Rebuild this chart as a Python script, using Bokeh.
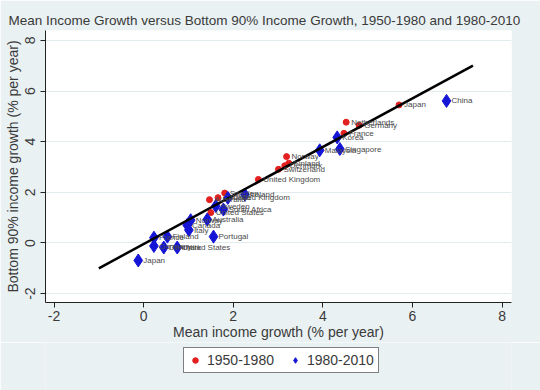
from bokeh.plotting import figure
from bokeh.layouts import column
from bokeh.models import Range1d, FixedTicker, Legend, LegendItem, ColumnDataSource
from bokeh.core.properties import value
from bokeh.embed import file_html
from bokeh.resources import INLINE

# ---- data ----
red_x = [5.70, 4.52, 4.81, 4.47, 3.19, 3.24, 3.15, 3.01, 2.56, 1.81, 1.66, 1.47, 1.50]
red_y = [5.45, 4.77, 4.65, 4.33, 3.41, 3.15, 3.05, 2.91, 2.51, 1.97, 1.79, 1.71, 1.20]
red_labels = ["Japan", "Netherlands", "Germany", "France", "Norway", "Finland",
              "Denmark", "Switzerland", "United Kingdom", "Sweden", "Canada",
              "Australia", "United States"]

blue_x = [6.76, 4.32, 4.38, 3.93, 2.26, 1.88, 1.61, 1.78, 1.42, 1.05, 0.97, 1.01,
          1.56, 0.23, 0.53, 0.23, 0.45, 0.75, -0.12]
blue_y = [5.61, 4.17, 3.71, 3.66, 1.91, 1.78, 1.46, 1.32, 0.93, 0.90, 0.71, 0.51,
          0.25, 0.21, 0.25, -0.12, -0.18, -0.18, -0.69]
blue_labels = ["China", "Korea", "Singapore", "Malaysia", "Ireland", "United Kingdom",
               "Sweden", "South Africa", "Australia", "Norway", "Canada", "Italy",
               "Portugal", "France", "Finland", "Germany", "Denmark", "United States",
               "Japan"]

fit_x = [-1.0, 7.35]
fit_y = [-1.0, 7.0]

x_ticks = [-2, 0, 2, 4, 6, 8]
y_ticks = [-2, 0, 2, 4, 6, 8]
tick_text = {t: str(t) for t in x_ticks}

series_names = ["1950-1980", "1980-2010"]

FONT = "Liberation Sans"
TXT = "#3a3a3a"
BG = "#e9f1f3"
RED = "#e32020"
BLUE = "#1515d6"

p = figure(width=540, height=342, output_backend="svg", toolbar_location=None,
           x_range=Range1d(-2.19, 8.21), y_range=Range1d(-2.35, 8.39),
           min_border_left=45, min_border_right=29, min_border_top=30,
           min_border_bottom=39,
           background_fill_color="white", border_fill_color=BG,
           outline_line_color=None)

p.title.text = "Mean Income Growth versus Bottom 90% Income Growth, 1950-1980 and 1980-2010"
p.title.text_font = FONT
p.title.text_font_size = "13.5px"
p.title.text_font_style = "normal"
p.title.text_color = TXT
p.title.align = "left"
p.title.offset = -37
p.title.standoff = 6

for ax in (p.xaxis[0], p.yaxis[0]):
    ax.major_tick_out = 5
    ax.major_tick_in = 0
    ax.minor_tick_line_color = None
    ax.axis_line_color = "#222222"
    ax.major_tick_line_color = "#222222"
    ax.major_label_text_font = FONT
    ax.major_label_text_font_size = "14px"
    ax.major_label_text_color = TXT
    ax.axis_label_text_font = FONT
    ax.axis_label_text_font_size = "14px"
    ax.axis_label_text_font_style = "normal"
    ax.axis_label_text_color = TXT
    ax.major_label_overrides = tick_text

p.xaxis.major_label_standoff = 3
p.xaxis.axis_label_standoff = 0
p.yaxis.major_label_standoff = 5
p.yaxis.axis_label_standoff = 2

p.xaxis.ticker = FixedTicker(ticks=x_ticks)
p.yaxis.ticker = FixedTicker(ticks=y_ticks)
p.yaxis.major_label_orientation = "vertical"
p.xaxis.axis_label = "Mean income growth (% per year)"
p.yaxis.axis_label = "Bottom 90% income growth (% per year)"

p.xgrid.visible = False
p.ygrid.ticker = FixedTicker(ticks=y_ticks)
p.ygrid.grid_line_color = "#e2ebee"
p.ygrid.grid_line_width = 1

red_src = ColumnDataSource(dict(x=red_x, y=red_y, label=red_labels))
blue_src = ColumnDataSource(dict(x=blue_x, y=blue_y, label=blue_labels))

p.scatter(x="x", y="y", source=red_src, marker="circle", size=6,
          fill_color=RED, line_color=RED)
p.scatter(x="x", y="y", source=blue_src, marker="diamond", size=13,
          fill_color=BLUE, line_color=BLUE)

p.line(fit_x, fit_y, line_color="black", line_width=2.5)

for src in (red_src, blue_src):
    p.text(x="x", y="y", text="label", source=src, x_offset=5,
           text_baseline="middle", text_align="left", text_font_size="8px",
           text_color="#4a4a4a", text_font=value(FONT))

# ---- legend strip below the chart (key glyphs sit outside its visible range) ----
p2 = figure(width=540, height=48, output_backend="svg", toolbar_location=None,
            x_range=Range1d(0, 1), y_range=Range1d(0, 1),
            x_axis_location=None, y_axis_location=None, min_border=0,
            background_fill_color=BG, border_fill_color=BG,
            outline_line_color=None)
p2.grid.visible = False
lr_red = p2.scatter(x=[-10], y=[-10], marker="circle", size=6,
                    fill_color=RED, line_color=RED)
lr_blue = p2.scatter(x=[-10], y=[-10], marker="diamond", size=10,
                     fill_color=BLUE, line_color=BLUE)

legend = Legend(items=[LegendItem(label=series_names[0], renderers=[lr_red]),
                       LegendItem(label=series_names[1], renderers=[lr_blue])],
                orientation="horizontal", location=(138, 17),
                border_line_color="black", border_line_width=1,
                background_fill_color="white", background_fill_alpha=1,
                label_text_font=FONT, label_text_font_size="14px",
                label_text_color=TXT, glyph_width=14, glyph_height=14,
                padding=4, spacing=14, margin=0, label_standoff=5)
p2.add_layout(legend, "center")

layout = column(p, p2, spacing=0)
open("out.html", "w").write(file_html(layout, INLINE))
